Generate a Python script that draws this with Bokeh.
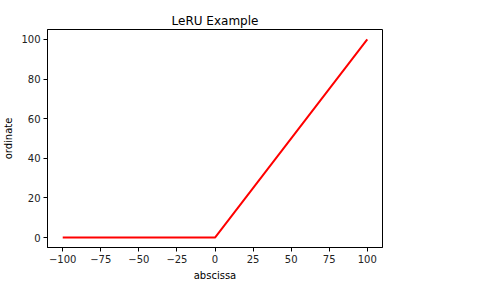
from bokeh.plotting import figure
from bokeh.models import FixedTicker, CustomJSTickFormatter, Range1d
from bokeh.embed import file_html
from bokeh.resources import INLINE

x_vals = [-100, 0, 100]
y_vals = [0, 0, 100]
x_ticks = [-100, -75, -50, -25, 0, 25, 50, 75, 100]
y_ticks = [0, 20, 40, 60, 80, 100]

FONT = "DejaVu Sans"

p = figure(width=477, height=301, output_backend="svg", toolbar_location=None,
           x_range=Range1d(-110, 110), y_range=Range1d(-5, 105),
           title="LeRU Example",
           min_border_left=46, min_border_right=95, min_border_top=29, min_border_bottom=54)

p.line(x_vals, y_vals, line_color="red", line_width=2)

p.title.align = "center"
p.title.text_font = FONT
p.title.text_font_style = "normal"
p.title.text_font_size = "12px"
p.title.text_color = "black"
p.title.offset = 0
p.title.standoff = 4

p.xgrid.visible = False
p.ygrid.visible = False
p.outline_line_color = "black"
p.outline_line_width = 1
p.outline_line_alpha = 1
p.background_fill_color = "white"
p.border_fill_color = "white"

fmt = CustomJSTickFormatter(code="return String(tick).replace('-', '\u2212');")

for ax, ticks, label in ((p.xaxis[0], x_ticks, "abscissa"), (p.yaxis[0], y_ticks, "ordinate")):
    ax.ticker = FixedTicker(ticks=ticks)
    ax.formatter = fmt
    ax.axis_label = label
    ax.axis_label_text_font = FONT
    ax.axis_label_text_font_size = "10px"
    ax.axis_label_text_font_style = "normal"
    ax.axis_label_text_color = "black"
    ax.major_label_text_font = FONT
    ax.major_label_text_font_size = "10px"
    ax.major_label_text_color = "#222222"
    ax.major_tick_in = 0
    ax.major_tick_out = 4
    ax.minor_tick_in = 0
    ax.minor_tick_out = 0
    ax.major_label_standoff = 3
    ax.axis_label_standoff = 4
    ax.axis_line_color = "black"
    ax.major_tick_line_color = "black"

open("out.html", "w").write(file_html(p, INLINE))
